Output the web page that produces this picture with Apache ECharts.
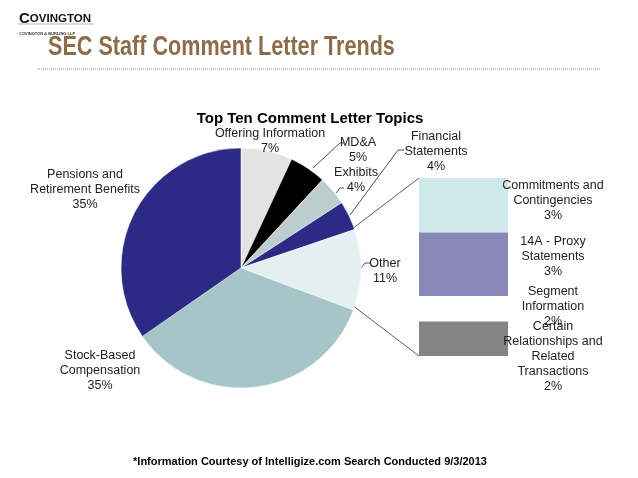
<!DOCTYPE html>
<html><head><meta charset="utf-8">
<script src="https://cdn.jsdelivr.net/npm/echarts@6/dist/echarts.min.js"></script>
<style>html,body{margin:0;background:#fff}#c{width:638px;height:478px}</style>
</head><body><div id="c"></div>
<script>
const pieNames = ['Offering Information', 'MD&A', 'Exhibits', 'Financial\nStatements', 'Other', 'Stock-Based\nCompensation', 'Pensions and\nRetirement Benefits'];
const pieValues = [7, 5, 4, 4, 11, 35, 35];
const pieColors = ['#e3e3e3', '#000000', '#bccdd0', '#2b2a85', '#e3f0f2', '#a5c5c9', '#2b2a85'];
const barNames = ['Commitments and\nContingencies', '14A - Proxy\nStatements', 'Segment\nInformation', 'Certain\nRelationships and\nRelated\nTransactions'];
const barValues = [3.0, 3.5, 1.4, 1.9];
const barPercentLabels = ['3%', '3%', '2%', '2%'];
const barColors = ['#cfe8ea', '#8788b8', '#ffffff', '#848484'];

// label placement (layout only)
const pieLabelPos = [[270, 126], [358, 135], [356, 165], [436, 129], [385, 256], [100, 348], [85, 167]];
const barLabelY = [0, 2, -12, -2];
const leaderLines = [
  [[313, 168], [340, 143], [344, 143]],
  [[336, 193], [340, 188], [344, 188]],
  [[350, 215], [398, 150], [404, 150]],
  [[361, 268], [365, 263], [371, 263]]
];

const font = 'Liberation Sans, Arial, sans-serif';
const chart = echarts.init(document.getElementById('c'));
chart.setOption({
  animation: false,
  textStyle: { fontFamily: font },
  title: [
    { text: '{a|C}{b|OVINGTON}', left: 14, top: 6, textStyle: { rich: { a: { fontSize: 15, fontWeight: 'bold', color: '#111', fontFamily: font }, b: { fontSize: 11.5, fontWeight: 'bold', color: '#111', fontFamily: font } } } },
    { text: 'COVINGTON & BURLING LLP', left: 14, top: 27, textStyle: { fontSize: 4, color: '#333' } },
    { text: 'Top Ten Comment Letter Topics', left: 305, top: 106, textAlign: 'center', textStyle: { fontSize: 15, fontWeight: 'bold', color: '#000' } },
    { text: '*Information Courtesy of Intelligize.com Search Conducted 9/3/2013', left: 305, top: 451, textAlign: 'center', textStyle: { fontSize: 11, fontWeight: 'bold', color: '#000' } }
  ],
  graphic: [
    { type: 'text', x: 48, y: 34, scaleX: 0.8, style: { text: 'SEC Staff Comment Letter Trends', fontSize: 27, fontWeight: 'bold', fill: '#8d6c4a', fontFamily: font } },
    { type: 'line', shape: { x1: 37, y1: 69, x2: 600, y2: 69 }, style: { stroke: '#a08c78', lineWidth: 1, lineDash: [1, 1] } },
    { type: 'line', shape: { x1: 18, y1: 24, x2: 94, y2: 24 }, style: { stroke: '#888', lineWidth: 0.6 } },
    { type: 'line', shape: { x1: 352, y1: 229, x2: 419, y2: 178 }, style: { stroke: '#333', lineWidth: 0.8 } },
    { type: 'line', shape: { x1: 352, y1: 305, x2: 419, y2: 356 }, style: { stroke: '#333', lineWidth: 0.8 } },
    ...leaderLines.map(pts => ({ type: 'polyline', shape: { points: pts }, style: { stroke: '#222', lineWidth: 0.8, fill: null } }))
  ],
  grid: { left: 419, top: 178, width: 89, height: 178 },
  xAxis: { type: 'category', data: [''], show: false },
  yAxis: { type: 'value', inverse: true, min: 0, max: 9.8, show: false },
  series: [
    {
      type: 'pie', center: [241, 268], radius: 120, startAngle: 90,
      data: pieNames.map((n, i) => ({ name: n, value: pieValues[i], itemStyle: { color: pieColors[i] } })),
      itemStyle: { borderColor: '#fff', borderWidth: 0.5 },
      label: { formatter: p => p.name + '\n' + p.value + '%', color: '#222', fontSize: 12.5, lineHeight: 15, fontFamily: font, align: 'center', overflow: 'none', width: 160 },
      labelLine: { show: false },
      labelLayout: p => ({ x: pieLabelPos[p.dataIndex][0], y: pieLabelPos[p.dataIndex][1], align: 'center', verticalAlign: 'top' })
    },
    ...barNames.map((n, i) => ({
      type: 'bar', stack: 'b', name: n, barWidth: 89,
      data: [barValues[i]],
      itemStyle: { color: barColors[i] },
      label: {
        show: true, position: [134, barLabelY[i]], align: 'center', verticalAlign: 'top',
        formatter: n + '\n' + barPercentLabels[i], color: '#222', fontSize: 12.5, lineHeight: 15, fontFamily: font
      }
    }))
  ]
});
</script></body></html>
